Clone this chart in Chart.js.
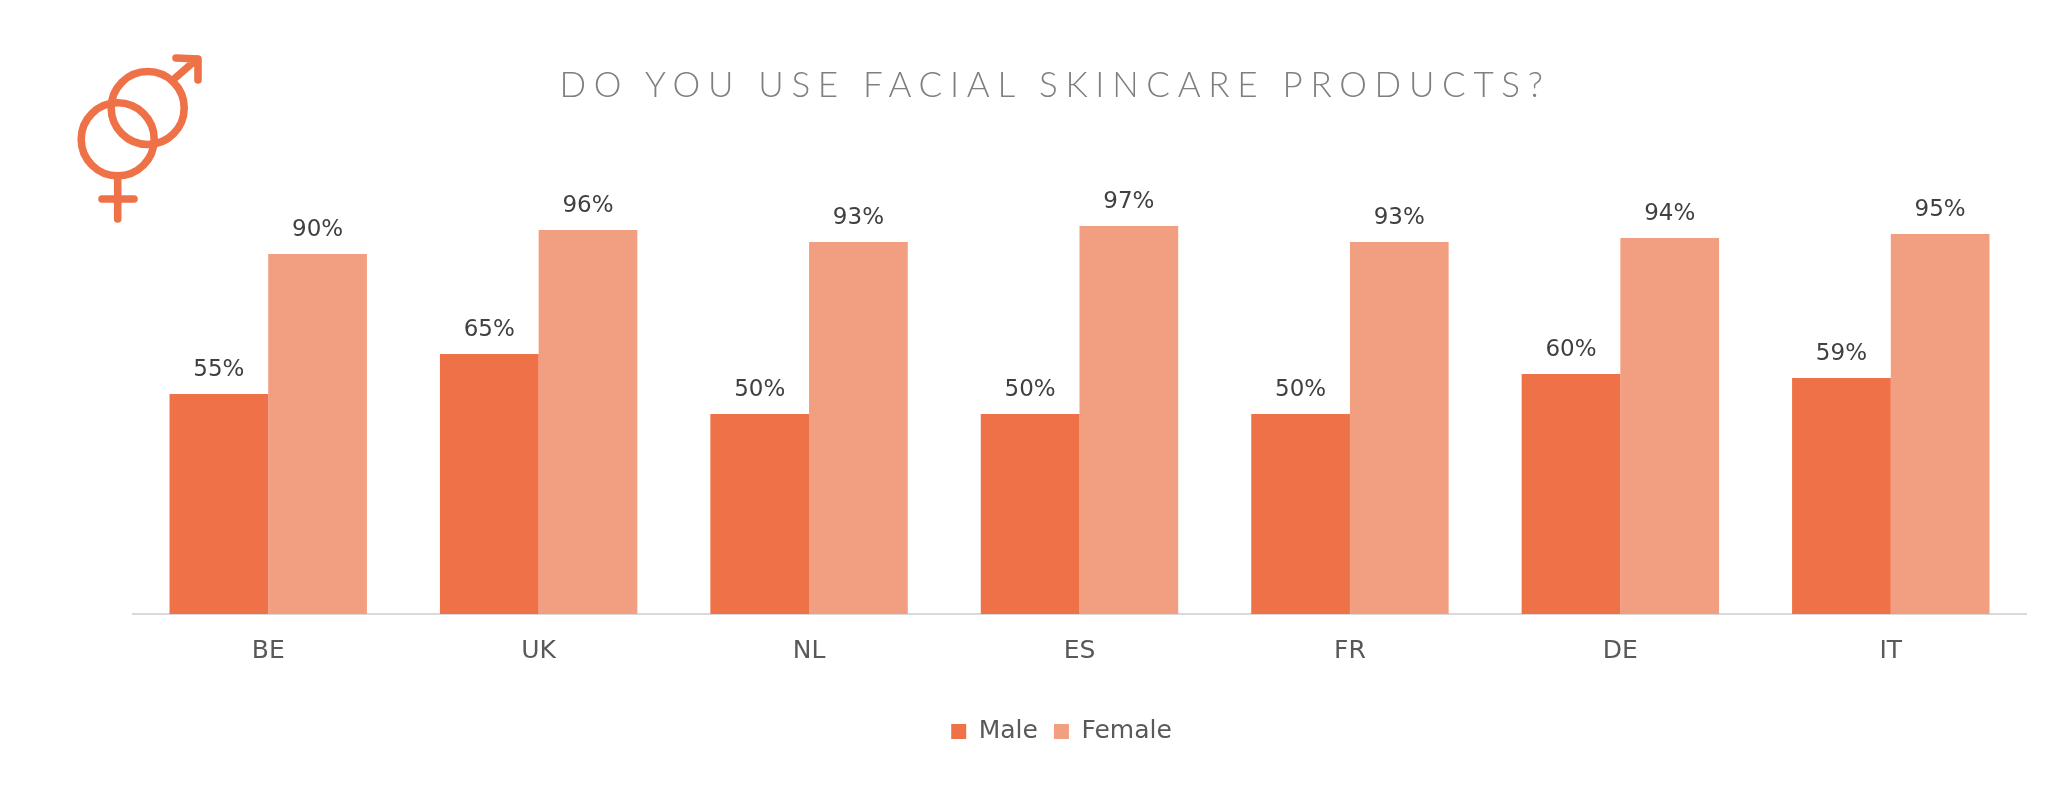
<!DOCTYPE html>
<html>
<head>
<meta charset="utf-8">
<title>Do you use facial skincare products?</title>
<script src="https://cdn.jsdelivr.net/npm/chart.js@4"></script>
<style>
    html, body { margin: 0; padding: 0; background: #ffffff; }
    .page { position: relative; width: 2048px; height: 785px; overflow: hidden; }
    .chart-title {
        position: absolute; left: 0; top: 62px; width: 2048px; margin: 0;
        padding-left: 62px; box-sizing: border-box;
        text-align: center; white-space: nowrap;
        font: 300 35px Lato, sans-serif; letter-spacing: 7.7px; color: #7f7f7f;
    }
    .gender-icon { position: absolute; left: 0; top: 0; }
    canvas { position: absolute; left: 0; top: 0; }
</style>
</head>
<body>
<div class="page">
    <canvas id="skincareChart" width="2048" height="785"></canvas>
    <h1 class="chart-title">DO YOU USE FACIAL SKINCARE PRODUCTS?</h1>
    <svg class="gender-icon" width="240" height="240" fill="none" stroke="#ef7147" stroke-width="7.6" stroke-linecap="round" stroke-linejoin="round">
        <circle cx="117.7" cy="139.3" r="36.5"/>
        <circle cx="147.7" cy="108" r="36.5"/>
        <path d="M117.7 176V219M102 199H134"/>
        <path d="M174 79L197 59M176 58L198 59L198 80"/>
    </svg>
</div>

<script>
// Chart data
const countries = ['BE', 'UK', 'NL', 'ES', 'FR', 'DE', 'IT'];
const maleValues = [55, 65, 50, 50, 50, 60, 59];
const femaleValues = [90, 96, 93, 97, 93, 94, 95];

const MALE_COLOR = '#ef7147';
const FEMALE_COLOR = '#f29e80';
const FONT_FAMILY = '"DejaVu Sans", sans-serif';
const LEGEND_SHIFT = 18;

// Percent labels above each bar
const valueLabels = {
    id: 'valueLabels',
    afterDatasetsDraw(chart) {
        const ctx = chart.ctx;
        ctx.save();
        ctx.font = `400 23px ${FONT_FAMILY}`;
        ctx.fillStyle = '#404040';
        ctx.textAlign = 'center';
        ctx.textBaseline = 'bottom';
        chart.data.datasets.forEach((dataset, i) => {
            chart.getDatasetMeta(i).data.forEach((bar, j) => {
                ctx.fillText(`${dataset.data[j]}%`, bar.x, bar.y - 12);
            });
        });
        ctx.restore();
    }
};

// Legend sits left of the plot centre
const legendOffset = {
    id: 'legendOffset',
    afterLayout(chart) {
        chart.legend.left -= LEGEND_SHIFT;
        chart.legend.right -= LEGEND_SHIFT;
    }
};

new Chart(document.getElementById('skincareChart'), {
    type: 'bar',
    data: {
        labels: countries,
        datasets: [
            { label: 'Male', data: maleValues, backgroundColor: MALE_COLOR },
            { label: 'Female', data: femaleValues, backgroundColor: FEMALE_COLOR }
        ]
    },
    options: {
        responsive: false,
        animation: false,
        categoryPercentage: 0.73,
        barPercentage: 1,
        layout: { padding: { left: 133, right: 22, top: 214, bottom: 31 } },
        plugins: {
            title: { display: false },
            tooltip: { enabled: false },
            legend: {
                position: 'bottom',
                labels: {
                    boxWidth: 15,
                    boxHeight: 15,
                    padding: 16,
                    color: '#595959',
                    font: { family: FONT_FAMILY, size: 25 }
                }
            }
        },
        scales: {
            x: {
                border: { color: '#d9d9d9', width: 2 },
                grid: { display: false },
                ticks: {
                    color: '#595959',
                    padding: 14,
                    font: { family: FONT_FAMILY, size: 25 }
                },
                afterFit(scale) { scale.height = 89; }
            },
            y: { display: false, min: 0, max: 100 }
        }
    },
    plugins: [valueLabels, legendOffset]
});
</script>
</body>
</html>
